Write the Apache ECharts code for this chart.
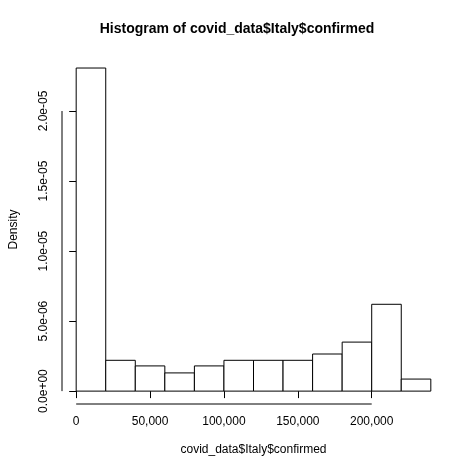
<!DOCTYPE html>
<html><head><meta charset="utf-8">
<script src="https://cdn.jsdelivr.net/npm/echarts@6/dist/echarts.min.js"></script>
<style>html,body{margin:0;padding:0;background:#fff}#c{width:474px;height:474px}</style>
</head><body><div id="c"></div>
<script>
const breaks = [0,20000,40000,60000,80000,100000,120000,140000,160000,180000,200000,220000,240000];
const densities = [2.307e-5,2.2e-6,1.8e-6,1.3e-6,1.8e-6,2.2e-6,2.2e-6,2.2e-6,2.65e-6,3.5e-6,6.2e-6,0.86e-6];
const xTicks = [0,50000,100000,150000,200000];
const yTicks = [0,5e-6,1e-5,1.5e-5,2e-5];
const yLabels = ['0.0e+00','5.0e-06','1.0e-05','1.5e-05','2.0e-05'];
const bars = densities.map((d,i)=>[breaks[i],breaks[i+1],d]);
const font = 'Liberation Sans, Arial, sans-serif';
const chart = echarts.init(document.getElementById('c'));
chart.setOption({
  animation:false,
  title:{text:'Histogram of covid_data$Italy$confirmed',left:'center',top:17,
    textStyle:{fontFamily:font,fontSize:14,fontWeight:'bold',color:'#000'}},
  grid:{left:57,right:29,top:55,bottom:70},
  xAxis:{type:'value',min:-9600,max:249600,splitLine:{show:false},
    axisLine:{show:false},
    axisTick:{show:true,length:7,customValues:xTicks,lineStyle:{color:'#000'}},
    axisLabel:{customValues:xTicks,color:'#000',fontFamily:font,fontSize:12,margin:12},
    name:'covid_data$Italy$confirmed',nameLocation:'middle',nameGap:40,
    nameTextStyle:{fontFamily:font,fontSize:12,color:'#000'}},
  yAxis:{type:'value',min:-0.92e-6,max:2.4e-5,splitLine:{show:false},
    axisLine:{show:false},
    axisTick:{show:true,length:7,customValues:yTicks,lineStyle:{color:'#000'}},
    axisLabel:{customValues:yTicks,rotate:90,color:'#000',fontFamily:font,fontSize:12,margin:12,
      formatter:v=>{const i=yTicks.findIndex(t=>Math.abs(t-v)<1e-9);return i>=0?yLabels[i]:'';}},
    name:'Density',nameLocation:'middle',nameGap:42,
    nameTextStyle:{fontFamily:font,fontSize:12,color:'#000'}},
  series:[{
    type:'custom',data:bars,
    renderItem:(p,api)=>{
      const a=api.coord([api.value(0),api.value(2)]);
      const b=api.coord([api.value(1),0]);
      return {type:'rect',shape:{x:a[0],y:a[1],width:b[0]-a[0],height:b[1]-a[1]},
        style:{fill:'#fff',stroke:'#000',lineWidth:1}};
    }
  },{
    type:'custom',data:[[0]],
    renderItem:(p,api)=>{
      const cs=p.coordSys;
      const x0=api.coord([xTicks[0],0])[0], x1=api.coord([xTicks[xTicks.length-1],0])[0];
      const y0=api.coord([0,yTicks[0]])[1], y1=api.coord([0,yTicks[yTicks.length-1]])[1];
      const by=cs.y+cs.height, lx=cs.x;
      return {type:'group',children:[
        {type:'line',shape:{x1:x0,y1:by,x2:x1,y2:by},style:{stroke:'#000',lineWidth:1}},
        {type:'line',shape:{x1:lx,y1:y0,x2:lx,y2:y1},style:{stroke:'#000',lineWidth:1}}
      ]};
    }
  }]
});
</script></body></html>
